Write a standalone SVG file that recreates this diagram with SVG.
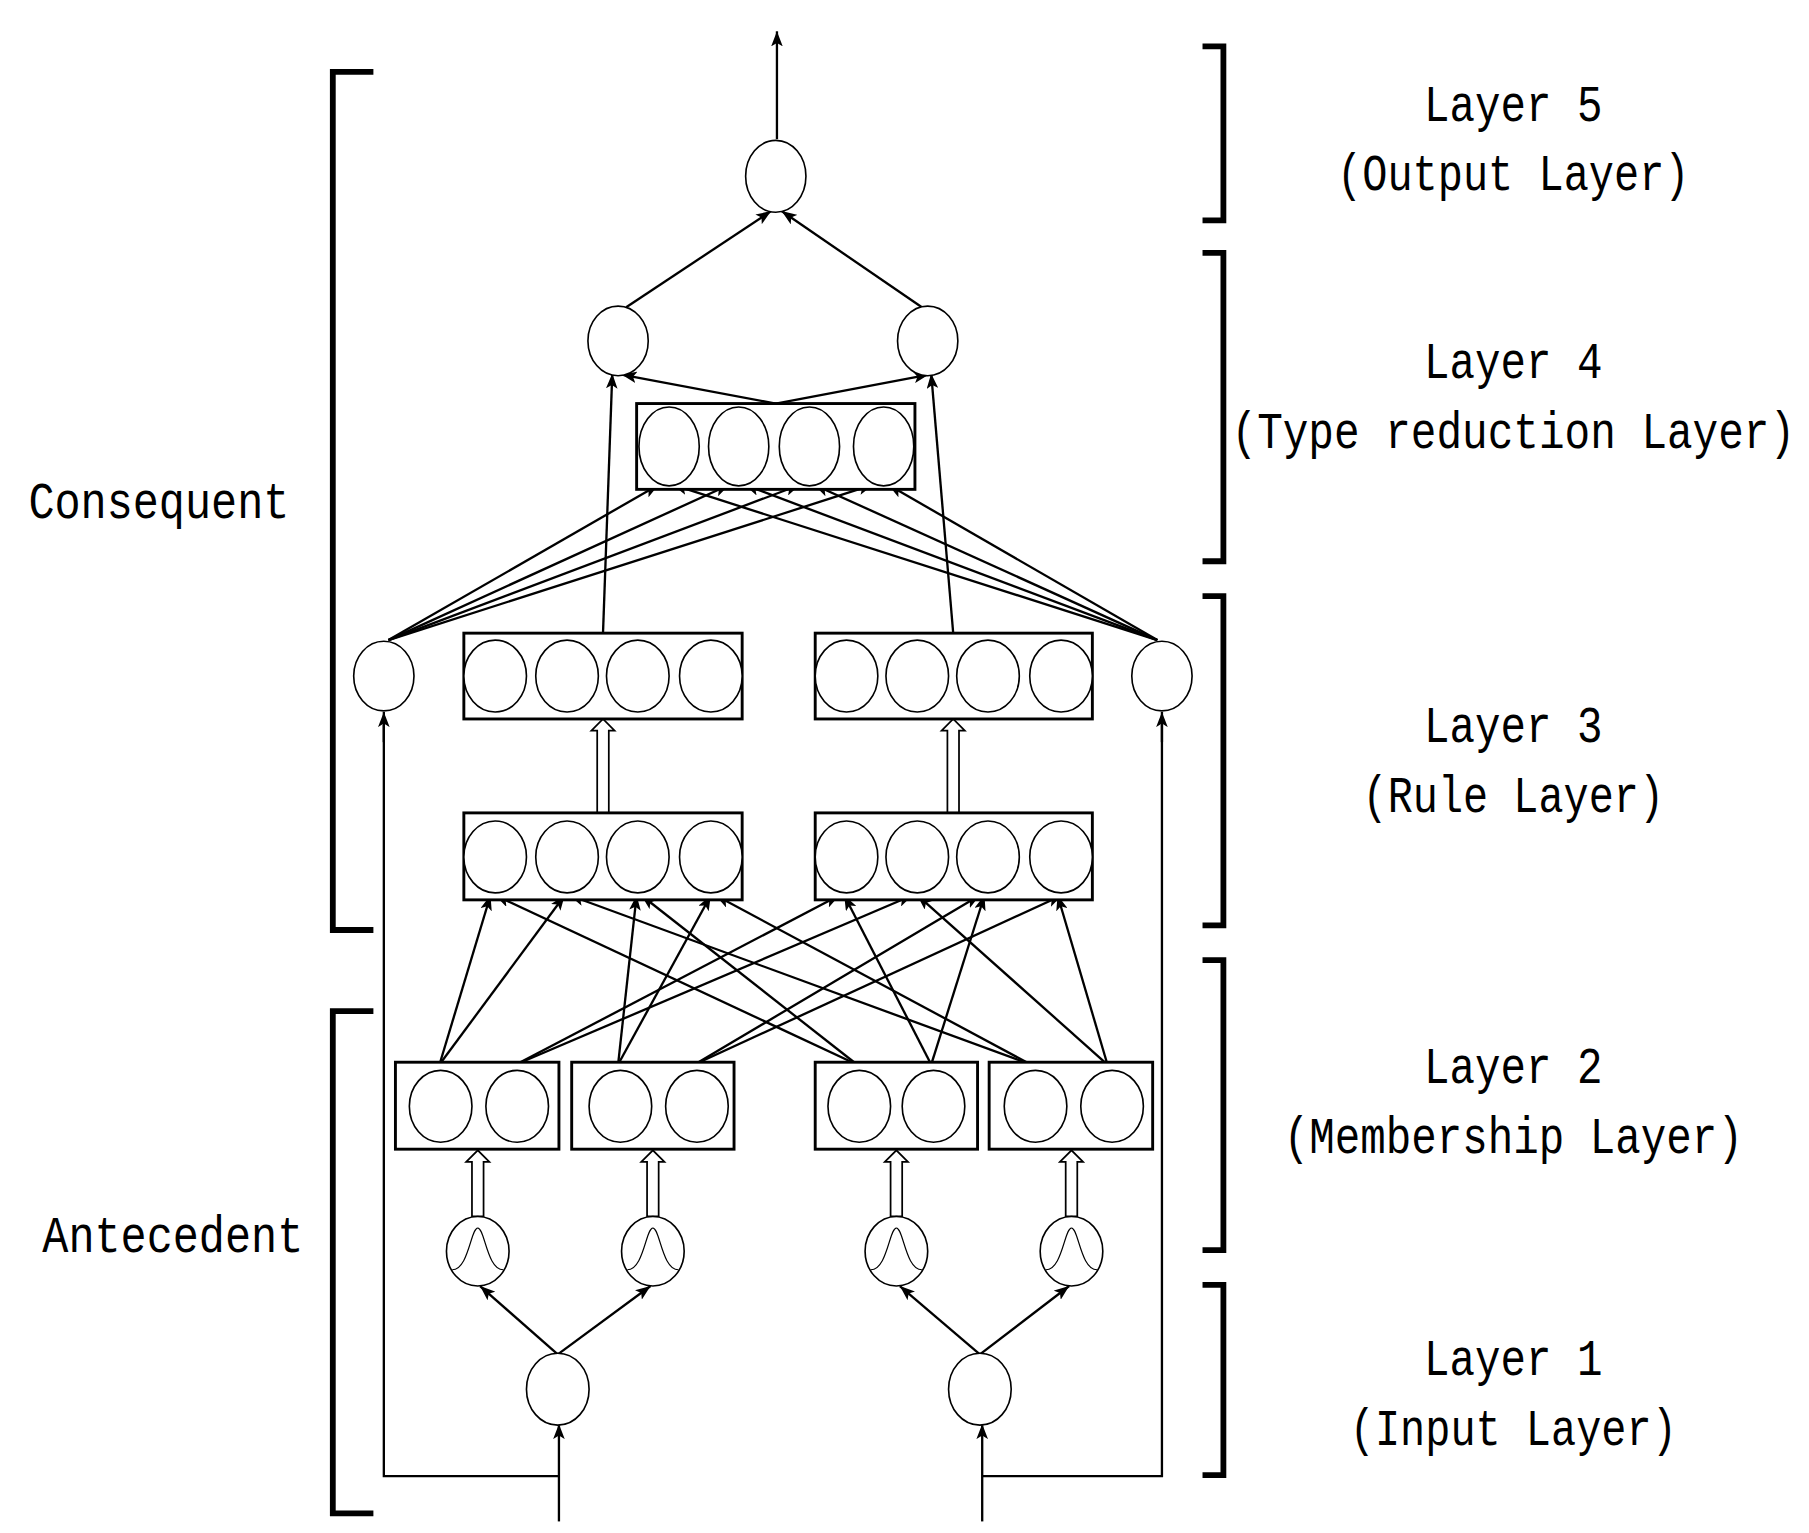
<svg xmlns="http://www.w3.org/2000/svg" width="1809" height="1533" viewBox="0 0 1809 1533">
<defs>
<marker id="ah" markerUnits="userSpaceOnUse" markerWidth="14" markerHeight="10" refX="13" refY="5" orient="auto"><path d="M0,0 L13,5 L0,10 L3,5 z" fill="#000"/></marker>
<path id="bell" d="M-22,16 C-8,16 -6,-20 0,-20 C6,-20 8,16 22,16" fill="none" stroke="#000" stroke-width="1"/>
</defs>
<style>
.c{fill:#fff;stroke:#000;stroke-width:1.4}
.b{fill:#fff;stroke:#000;stroke-width:2.5}
.l{stroke:#000;stroke-width:2;fill:none}
.a{stroke:#000;stroke-width:2;fill:none;marker-end:url(#ah)}
.h{fill:#fff;stroke:#000;stroke-width:1.5}
.br{stroke:#000;stroke-width:5;fill:none}
.t{font-family:"Liberation Mono",monospace;font-size:44px;text-anchor:middle;fill:#000}
</style>
<rect width="1809" height="1533" fill="#fff"/>
<g transform="scale(1.15962)">
<g id="brackets">
<path class="br" d="M322,62 H287 V802 H322"/>
<path class="br" d="M322,872 H287 V1305 H322"/>
<path class="br" d="M1037,40 H1055 V190 H1037"/>
<path class="br" d="M1037,218 H1055 V484 H1037"/>
<path class="br" d="M1037,514 H1055 V798 H1037"/>
<path class="br" d="M1037,828 H1055 V1078 H1037"/>
<path class="br" d="M1037,1108 H1055 V1272 H1037"/>
</g>
<g id="labels">
<text class="t" x="1305" y="104" textLength="154" lengthAdjust="spacingAndGlyphs">Layer 5</text>
<text class="t" x="1305" y="164" textLength="304" lengthAdjust="spacingAndGlyphs">(Output Layer)</text>
<text class="t" x="1305" y="326" textLength="154" lengthAdjust="spacingAndGlyphs">Layer 4</text>
<text class="t" x="1305" y="386" textLength="486" lengthAdjust="spacingAndGlyphs">(Type reduction Layer)</text>
<text class="t" x="1305" y="640" textLength="154" lengthAdjust="spacingAndGlyphs">Layer 3</text>
<text class="t" x="1305" y="700" textLength="260" lengthAdjust="spacingAndGlyphs">(Rule Layer)</text>
<text class="t" x="1305" y="934" textLength="154" lengthAdjust="spacingAndGlyphs">Layer 2</text>
<text class="t" x="1305" y="994" textLength="396" lengthAdjust="spacingAndGlyphs">(Membership Layer)</text>
<text class="t" x="1305" y="1186" textLength="154" lengthAdjust="spacingAndGlyphs">Layer 1</text>
<text class="t" x="1305" y="1246" textLength="282" lengthAdjust="spacingAndGlyphs">(Input Layer)</text>
<text class="t" x="137" y="447" textLength="225" lengthAdjust="spacingAndGlyphs">Consequent</text>
<text class="t" x="149" y="1080" textLength="225" lengthAdjust="spacingAndGlyphs">Antecedent</text>
</g>
<g id="connectors">
<line class="a" x1="670" y1="120" x2="670" y2="27"/>
<line class="a" x1="540" y1="265" x2="665" y2="182"/>
<line class="a" x1="795" y1="265" x2="674" y2="182"/>
<line class="a" x1="669" y1="348" x2="536" y2="323"/>
<line class="a" x1="669" y1="348" x2="801" y2="323"/>
<line class="a" x1="520" y1="546" x2="528" y2="322"/>
<line class="a" x1="822" y1="546" x2="803" y2="322"/>
<line class="a" x1="335" y1="552" x2="568" y2="418"/>
<line class="a" x1="335" y1="552" x2="629" y2="418"/>
<line class="a" x1="335" y1="552" x2="690" y2="418"/>
<line class="a" x1="335" y1="552" x2="753" y2="418"/>
<line class="a" x1="998" y1="552" x2="580" y2="418"/>
<line class="a" x1="998" y1="552" x2="642" y2="418"/>
<line class="a" x1="998" y1="552" x2="702" y2="418"/>
<line class="a" x1="998" y1="552" x2="766" y2="418"/>
<polygon class="h" points="515,701 515,630 510,630 520,620 530,630 525,630 525,701"/>
<polygon class="h" points="817,701 817,630 812,630 822,620 832,630 827,630 827,701"/>
<path class="l" d="M482,1273 H331 V625"/>
<line class="a" x1="331" y1="640" x2="331" y2="614"/>
<path class="l" d="M847,1273 H1002 V625"/>
<line class="a" x1="1002" y1="640" x2="1002" y2="614"/>
<line class="a" x1="482" y1="1312" x2="482" y2="1228"/>
<line class="a" x1="847" y1="1312" x2="847" y2="1228"/>
<line class="a" x1="481" y1="1168" x2="414" y2="1109"/>
<line class="a" x1="481" y1="1168" x2="561" y2="1109"/>
<line class="a" x1="845" y1="1168" x2="776" y2="1109"/>
<line class="a" x1="845" y1="1168" x2="922" y2="1109"/>
<polygon class="h" points="407,1049 407,1002 402,1002 412,992 422,1002 417,1002 417,1049"/>
<polygon class="h" points="558,1049 558,1002 553,1002 563,992 573,1002 568,1002 568,1049"/>
<polygon class="h" points="768,1049 768,1002 763,1002 773,992 783,1002 778,1002 778,1049"/>
<polygon class="h" points="919,1049 919,1002 914,1002 924,992 934,1002 929,1002 929,1049"/>
<line class="a" x1="379" y1="918" x2="423" y2="772"/>
<line class="a" x1="379" y1="918" x2="487" y2="772"/>
<line class="a" x1="445" y1="918" x2="724" y2="772"/>
<line class="a" x1="445" y1="918" x2="787" y2="772"/>
<line class="a" x1="533" y1="918" x2="549" y2="772"/>
<line class="a" x1="533" y1="918" x2="613" y2="772"/>
<line class="a" x1="599" y1="918" x2="845" y2="772"/>
<line class="a" x1="599" y1="918" x2="916" y2="772"/>
<line class="a" x1="739" y1="918" x2="427" y2="772"/>
<line class="a" x1="739" y1="918" x2="553" y2="772"/>
<line class="a" x1="803" y1="918" x2="728" y2="772"/>
<line class="a" x1="803" y1="918" x2="849" y2="772"/>
<line class="a" x1="889" y1="918" x2="491" y2="772"/>
<line class="a" x1="889" y1="918" x2="617" y2="772"/>
<line class="a" x1="955" y1="918" x2="791" y2="772"/>
<line class="a" x1="955" y1="918" x2="912" y2="772"/>
</g>
<g id="layer5"><ellipse class="c" cx="669" cy="152" rx="26" ry="31"/></g>
<g id="layer4">
<ellipse class="c" cx="533" cy="294" rx="26" ry="30"/>
<ellipse class="c" cx="800" cy="294" rx="26" ry="30"/>
</g>
<g id="typered">
<rect class="b" x="549" y="348" width="240" height="74"/>
<ellipse class="c" cx="577" cy="385" rx="26" ry="34"/>
<ellipse class="c" cx="637" cy="385" rx="26" ry="34"/>
<ellipse class="c" cx="698" cy="385" rx="26" ry="34"/>
<ellipse class="c" cx="762" cy="385" rx="26" ry="34"/>
</g>
<g id="layer3">
<ellipse class="c" cx="331" cy="583" rx="26" ry="30"/>
<ellipse class="c" cx="1002" cy="583" rx="26" ry="30"/>
<rect class="b" x="400" y="546" width="240" height="74"/>
<ellipse class="c" cx="427" cy="583" rx="27" ry="31"/>
<ellipse class="c" cx="489" cy="583" rx="27" ry="31"/>
<ellipse class="c" cx="550" cy="583" rx="27" ry="31"/>
<ellipse class="c" cx="613" cy="583" rx="27" ry="31"/>
<rect class="b" x="703" y="546" width="239" height="74"/>
<ellipse class="c" cx="730" cy="583" rx="27" ry="31"/>
<ellipse class="c" cx="791" cy="583" rx="27" ry="31"/>
<ellipse class="c" cx="852" cy="583" rx="27" ry="31"/>
<ellipse class="c" cx="915" cy="583" rx="27" ry="31"/>
<rect class="b" x="400" y="701" width="240" height="75"/>
<ellipse class="c" cx="427" cy="739" rx="27" ry="31"/>
<ellipse class="c" cx="489" cy="739" rx="27" ry="31"/>
<ellipse class="c" cx="550" cy="739" rx="27" ry="31"/>
<ellipse class="c" cx="613" cy="739" rx="27" ry="31"/>
<rect class="b" x="703" y="701" width="239" height="75"/>
<ellipse class="c" cx="730" cy="739" rx="27" ry="31"/>
<ellipse class="c" cx="791" cy="739" rx="27" ry="31"/>
<ellipse class="c" cx="852" cy="739" rx="27" ry="31"/>
<ellipse class="c" cx="915" cy="739" rx="27" ry="31"/>
</g>
<g id="layer2">
<rect class="b" x="341" y="916" width="141" height="75"/>
<ellipse class="c" cx="380" cy="954" rx="27" ry="31"/>
<ellipse class="c" cx="446" cy="954" rx="27" ry="31"/>
<rect class="b" x="493" y="916" width="140" height="75"/>
<ellipse class="c" cx="535" cy="954" rx="27" ry="31"/>
<ellipse class="c" cx="601" cy="954" rx="27" ry="31"/>
<rect class="b" x="703" y="916" width="140" height="75"/>
<ellipse class="c" cx="741" cy="954" rx="27" ry="31"/>
<ellipse class="c" cx="805" cy="954" rx="27" ry="31"/>
<rect class="b" x="853" y="916" width="141" height="75"/>
<ellipse class="c" cx="893" cy="954" rx="27" ry="31"/>
<ellipse class="c" cx="959" cy="954" rx="27" ry="31"/>
</g>
<g id="gauss">
<ellipse class="c" cx="412" cy="1079" rx="27" ry="30"/><use href="#bell" x="412" y="1079"/>
<ellipse class="c" cx="563" cy="1079" rx="27" ry="30"/><use href="#bell" x="563" y="1079"/>
<ellipse class="c" cx="773" cy="1079" rx="27" ry="30"/><use href="#bell" x="773" y="1079"/>
<ellipse class="c" cx="924" cy="1079" rx="27" ry="30"/><use href="#bell" x="924" y="1079"/>
</g>
<g id="layer1">
<ellipse class="c" cx="481" cy="1198" rx="27" ry="31"/>
<ellipse class="c" cx="845" cy="1198" rx="27" ry="31"/>
</g>
</g>
</svg>
